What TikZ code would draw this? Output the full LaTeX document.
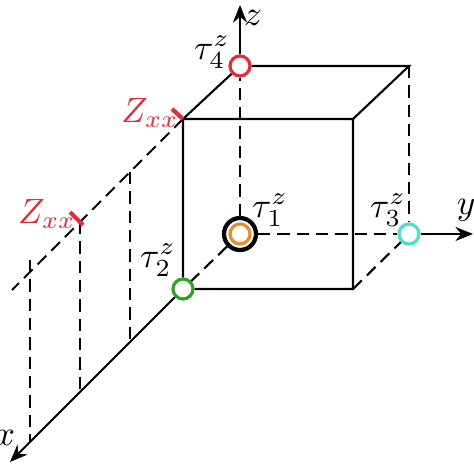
\documentclass[tikz,border=0pt]{standalone}
\usetikzlibrary{arrows.meta}
\definecolor{sitered}{RGB}{222,45,60}
\definecolor{sitegreen}{RGB}{50,160,40}
\definecolor{sitecyan}{RGB}{80,220,205}
\definecolor{siteorange}{RGB}{232,140,40}
\tikzstyle{site}=[circle,draw,line width=0.9pt,minimum size=0.2cm,inner sep=0pt,fill=white]
\tikzstyle{ax}=[semithick,-{Stealth[length=5pt,width=4pt]}]
\tikzstyle{hid}=[semithick,dash pattern=on 3.5pt off 2pt]
\tikzstyle{tick}=[sitered,line width=1.2pt]
\begin{document}
\begin{tikzpicture}
\useasboundingbox (0,0) rectangle (4.74,-4.74);
\node[circle,draw,line width=1.2pt,minimum size=0.32cm,inner sep=0pt] (t1) at (2.40,-2.34) {};
\node[site,draw=siteorange] (t1in) at (2.40,-2.34) {};
\node[site,draw=sitegreen] (t2) at (1.83,-2.89) {};
\node[site,draw=sitecyan] (t3) at (4.09,-2.34) {};
\node[site,draw=sitered] (t4) at (2.40,-0.66) {};
\coordinate (A) at (1.83,-1.19); \coordinate (B) at (3.53,-1.19); \coordinate (C) at (3.53,-2.89); \coordinate (D) at (4.09,-0.66);
\coordinate (xend) at (0.10,-4.62); \coordinate (yend) at (4.73,-2.34); \coordinate (zend) at (2.40,-0.05);
\coordinate (dend) at (0.12,-2.90);
\coordinate (p1) at (1.30,-1.72); \coordinate (q1) at (1.30,-3.42);
\coordinate (p2) at (0.80,-2.22); \coordinate (q2) at (0.80,-3.92);
\coordinate (p3) at (0.30,-2.60); \coordinate (q3) at (0.30,-4.42);
\draw[semithick] (A) -- (B) -- (C) -- (t2) -- (A) -- (t4) -- (D) -- (B);
\draw[hid] (D) -- (t3); \draw[hid] (C) -- (t3);
\draw[hid] (t1) -- (t2); \draw[hid] (t1) -- (t3); \draw[hid] (t1) -- (t4);
\draw[ax] (t4) -- (zend); \draw[ax] (t3) -- (yend); \draw[ax] (t2) -- (xend);
\draw[hid] (A) -- (dend);
\draw[hid] (p1) -- (q1); \draw[hid] (p2) -- (q2); \draw[hid] (p3) -- (q3);
\draw[tick] (1.72,-1.09) -- (A);
\draw[tick] (0.70,-2.12) -- (0.83,-2.25);
\node[] (lz) at (2.53,-0.18) {$z$};
\node[] (ly) at (4.66,-2.10) {$y$};
\node[] (lx) at (0.05,-4.38) {$x$};
\node[] (l1) at (2.70,-2.10) {$\tau_1^z$};
\node[] (l2) at (1.58,-2.60) {$\tau_2^z$};
\node[] (l3) at (3.88,-2.10) {$\tau_3^z$};
\node[] (l4) at (2.12,-0.52) {$\tau_4^z$};
\node[text=sitered] (lz1) at (1.50,-1.13) {$Z_{xx}$};
\node[text=sitered] (lz2) at (0.47,-2.14) {$Z_{xx}$};
\end{tikzpicture}
\end{document}
